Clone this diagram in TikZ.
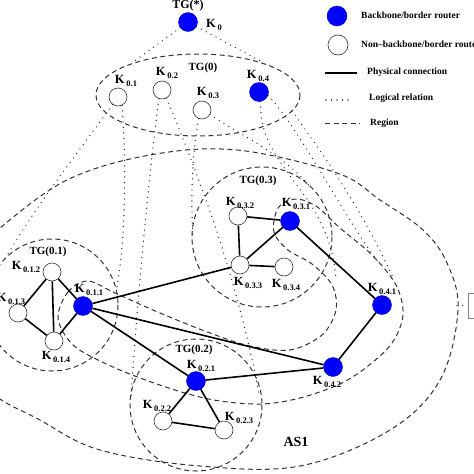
\documentclass[tikz,border=0pt]{standalone}
\usepackage{fontspec}
\setmainfont{Liberation Serif}
\newcommand{\Klab}[1]{{\fontsize{12.5}{12}\selectfont K}\,\raisebox{-2.5pt}{\fontsize{8.5}{8}\selectfont #1}}
\begin{document}
\begin{tikzpicture}[x=1pt,y=-1pt,
  bb/.style={circle,fill=blue,draw=blue!80!black,line width=0.4pt,minimum size=19pt,inner sep=0pt},
  nb/.style={circle,fill=white,draw=black!80,line width=0.6pt,minimum size=18pt,inner sep=0pt},
  phys/.style={line width=1.6pt},
  logic/.style={line width=1.4pt,dash pattern=on 0.01pt off 5.5pt,line cap=round,black!85},
  region/.style={line width=1pt,dash pattern=on 5pt off 3.5pt,black!80},
  lbl/.style={font=\bfseries,inner sep=0pt},
  tg/.style={font=\bfseries\fontsize{11}{11}\selectfont,inner sep=0pt},
  lg/.style={font=\bfseries\fontsize{9.5}{10}\selectfont,anchor=west,inner sep=0pt}]
\useasboundingbox (0,0) rectangle (474,474);
\clip (0,0) rectangle (474,474);
% ---------- regions ----------
\draw[region] (198,95) ellipse[x radius=102,y radius=41];
\draw[region] plot[smooth cycle,tension=0.6] coordinates {(-20,250) (-30,330) (-12,388) (40,420) (100,450) (200,466) (300,466) (390,430) (440,380) (458,310) (447,263) (423,230) (380,200) (337,173) (237,150) (150,155) (67,180) (0,228)};
\draw[region] (52,305) circle[radius=66];
\draw[region] (196,405) circle[radius=66];
\draw[region] (262,237) circle[radius=70];
\draw[region] plot[smooth cycle,tension=0.55] coordinates {(58,318) (68,292) (88,281) (115,293) (160,313) (210,333) (250,346) (290,350) (322,335) (336,310) (332,285) (312,264) (288,250) (274,232) (278,208) (295,199) (316,206) (340,228) (372,255) (396,285) (403,315) (392,343) (368,366) (340,384) (300,398) (262,404) (220,401) (185,393) (140,378) (100,361) (72,344)};
% ---------- nodes ----------
\node[bb] (k0) at (188,22) {};
\node[nb] (k01) at (118,97) {};
\node[nb] (k02) at (162,90) {};
\node[nb] (k03) at (202,110) {};
\node[bb] (k04) at (259,92) {};
\node[bb] (k011) at (83,306) {};
\node[nb] (k012) at (52,272) {};
\node[nb] (k013) at (18,313) {};
\node[nb] (k014) at (54,341) {};
\node[bb] (k021) at (196,381) {};
\node[nb] (k022) at (163,421) {};
\node[nb] (k023) at (224,430) {};
\node[bb] (k031) at (290,221) {};
\node[nb] (k032) at (238,216) {};
\node[nb] (k033) at (240,265) {};
\node[nb] (k034) at (284,267) {};
\node[bb] (k041) at (382,305) {};
\node[bb] (k042) at (333,367) {};
% ---------- logical relations ----------
\coordinate (e1) at (132,63);
\coordinate (e2) at (264,63);
\coordinate (e3) at (292,111);
\coordinate (t1a) at (6,257);
\coordinate (t1b) at (117,287);
\coordinate (t2a) at (131,398);
\coordinate (t2b) at (259,393);
\coordinate (t3a) at (193,238);
\coordinate (t3b) at (311,188);
\coordinate (t4a) at (378,262);
\coordinate (t4b) at (336,280);
\coordinate (t4c) at (394,280);
\draw[logic] (k0) -- (e1);
\draw[logic] (k0) -- (e2);
\draw[logic] (k01) .. controls (80,150) and (40,200) .. (t1a);
\draw[logic] (k01.-65) .. controls (127,170) and (125,240) .. (t1b);
\draw[logic] (k02.-110) .. controls (146,200) and (136,320) .. (t2a);
\draw[logic] (k02.-60) .. controls (200,180) and (235,270) .. (t2b);
\draw[logic] (k03.-110) .. controls (191,160) and (191,205) .. (t3a);
\draw[logic] (k03.-30) .. controls (240,135) and (285,155) .. (t3b);
\draw[logic] (k04.-80) .. controls (258,170) and (330,190) .. (t4b);
\draw[logic] (k04.-20) .. controls (300,130) and (340,210) .. (t4a);
\draw[logic] (e3) .. controls (320,150) and (360,205) .. (t4c);
\node[draw=gray,line width=0.8pt,minimum width=24pt,minimum height=25pt,anchor=west,inner sep=0pt] (box) at (468,305.5) {};
\coordinate (as1r) at (457,305.5);
\draw[logic] (as1r) -- (box);
% ---------- physical connections ----------
\draw[phys] (k012)--(k013) (k013)--(k014) (k012)--(k014) (k012)--(k011) (k014)--(k011)
  (k011)--(k033) (k011)--(k042) (k011)--(k021)
  (k021)--(k022) (k021)--(k023) (k022)--(k023) (k021)--(k042)
  (k032)--(k031) (k032)--(k033) (k033)--(k031) (k033)--(k034) (k031)--(k041) (k041)--(k042);
% ---------- labels ----------
\node[lbl,font=\bfseries\fontsize{12}{12}\selectfont] (ltgs) at (188,6) {TG(*)};
\node[lbl,anchor=west] (lk0) at (206,25) {\Klab{0}};
\node[lbl] (lk01) at (126,81) {\Klab{0.1}};
\node[lbl] (lk02) at (167,73) {\Klab{0.2}};
\node[lbl] (lk03) at (208,93) {\Klab{0.3}};
\node[lbl] (lk04) at (258,76) {\Klab{0.4}};
\node[tg] (ltg0) at (203,68) {TG(0)};
\node[tg] (ltg01) at (48,252) {TG(0.1)};
\node[tg] (ltg02) at (194,350) {TG(0.2)};
\node[tg] (ltg03) at (258,181) {TG(0.3)};
\node[lbl] (lk011) at (89,290) {\Klab{0.1.1}};
\node[lbl] (lk012) at (26,267) {\Klab{0.1.2}};
\node[lbl] (lk013) at (11,299) {\Klab{0.1.3}};
\node[lbl] (lk014) at (56,357) {\Klab{0.1.4}};
\node[lbl] (lk021) at (201,366) {\Klab{0.2.1}};
\node[lbl] (lk022) at (157,406) {\Klab{0.2.2}};
\node[lbl] (lk023) at (239,418) {\Klab{0.2.3}};
\node[lbl] (lk031) at (296,204) {\Klab{0.3.1}};
\node[lbl] (lk032) at (240,203) {\Klab{0.3.2}};
\node[lbl] (lk033) at (248,283) {\Klab{0.3.3}};
\node[lbl] (lk034) at (286,285) {\Klab{0.3.4}};
\node[lbl] (lk041) at (382,289) {\Klab{0.4.1}};
\node[lbl] (lk042) at (327,382) {\Klab{0.4.2}};
\node[lbl,font=\bfseries\fontsize{14}{14}\selectfont] (las1) at (296,442) {AS1};
% ---------- legend ----------
\node[bb,minimum size=20pt] (lgb) at (337,16) {};
\node[nb,minimum size=20pt] (lgn) at (338,45) {};
\node[lg] (lgt1) at (361,15) {Backbone/border router};
\node[lg] (lgt2) at (361,44) {Non--backbone/border router};
\coordinate (lp1) at (325,73); \coordinate (lp2) at (357,73);
\draw[phys] (lp1) -- (lp2);
\node[lg] (lgt3) at (367,72) {Physical connection};
\coordinate (ll1) at (326,100); \coordinate (ll2) at (352,100);
\draw[logic] (ll1) -- (ll2);
\node[lg] (lgt4) at (369,98) {Logical relation};
\coordinate (lr1) at (325,123); \coordinate (lr2) at (360,123);
\draw[region] (lr1) -- (lr2);
\node[lg] (lgt5) at (370,123) {Region};
\end{tikzpicture}
\end{document}
